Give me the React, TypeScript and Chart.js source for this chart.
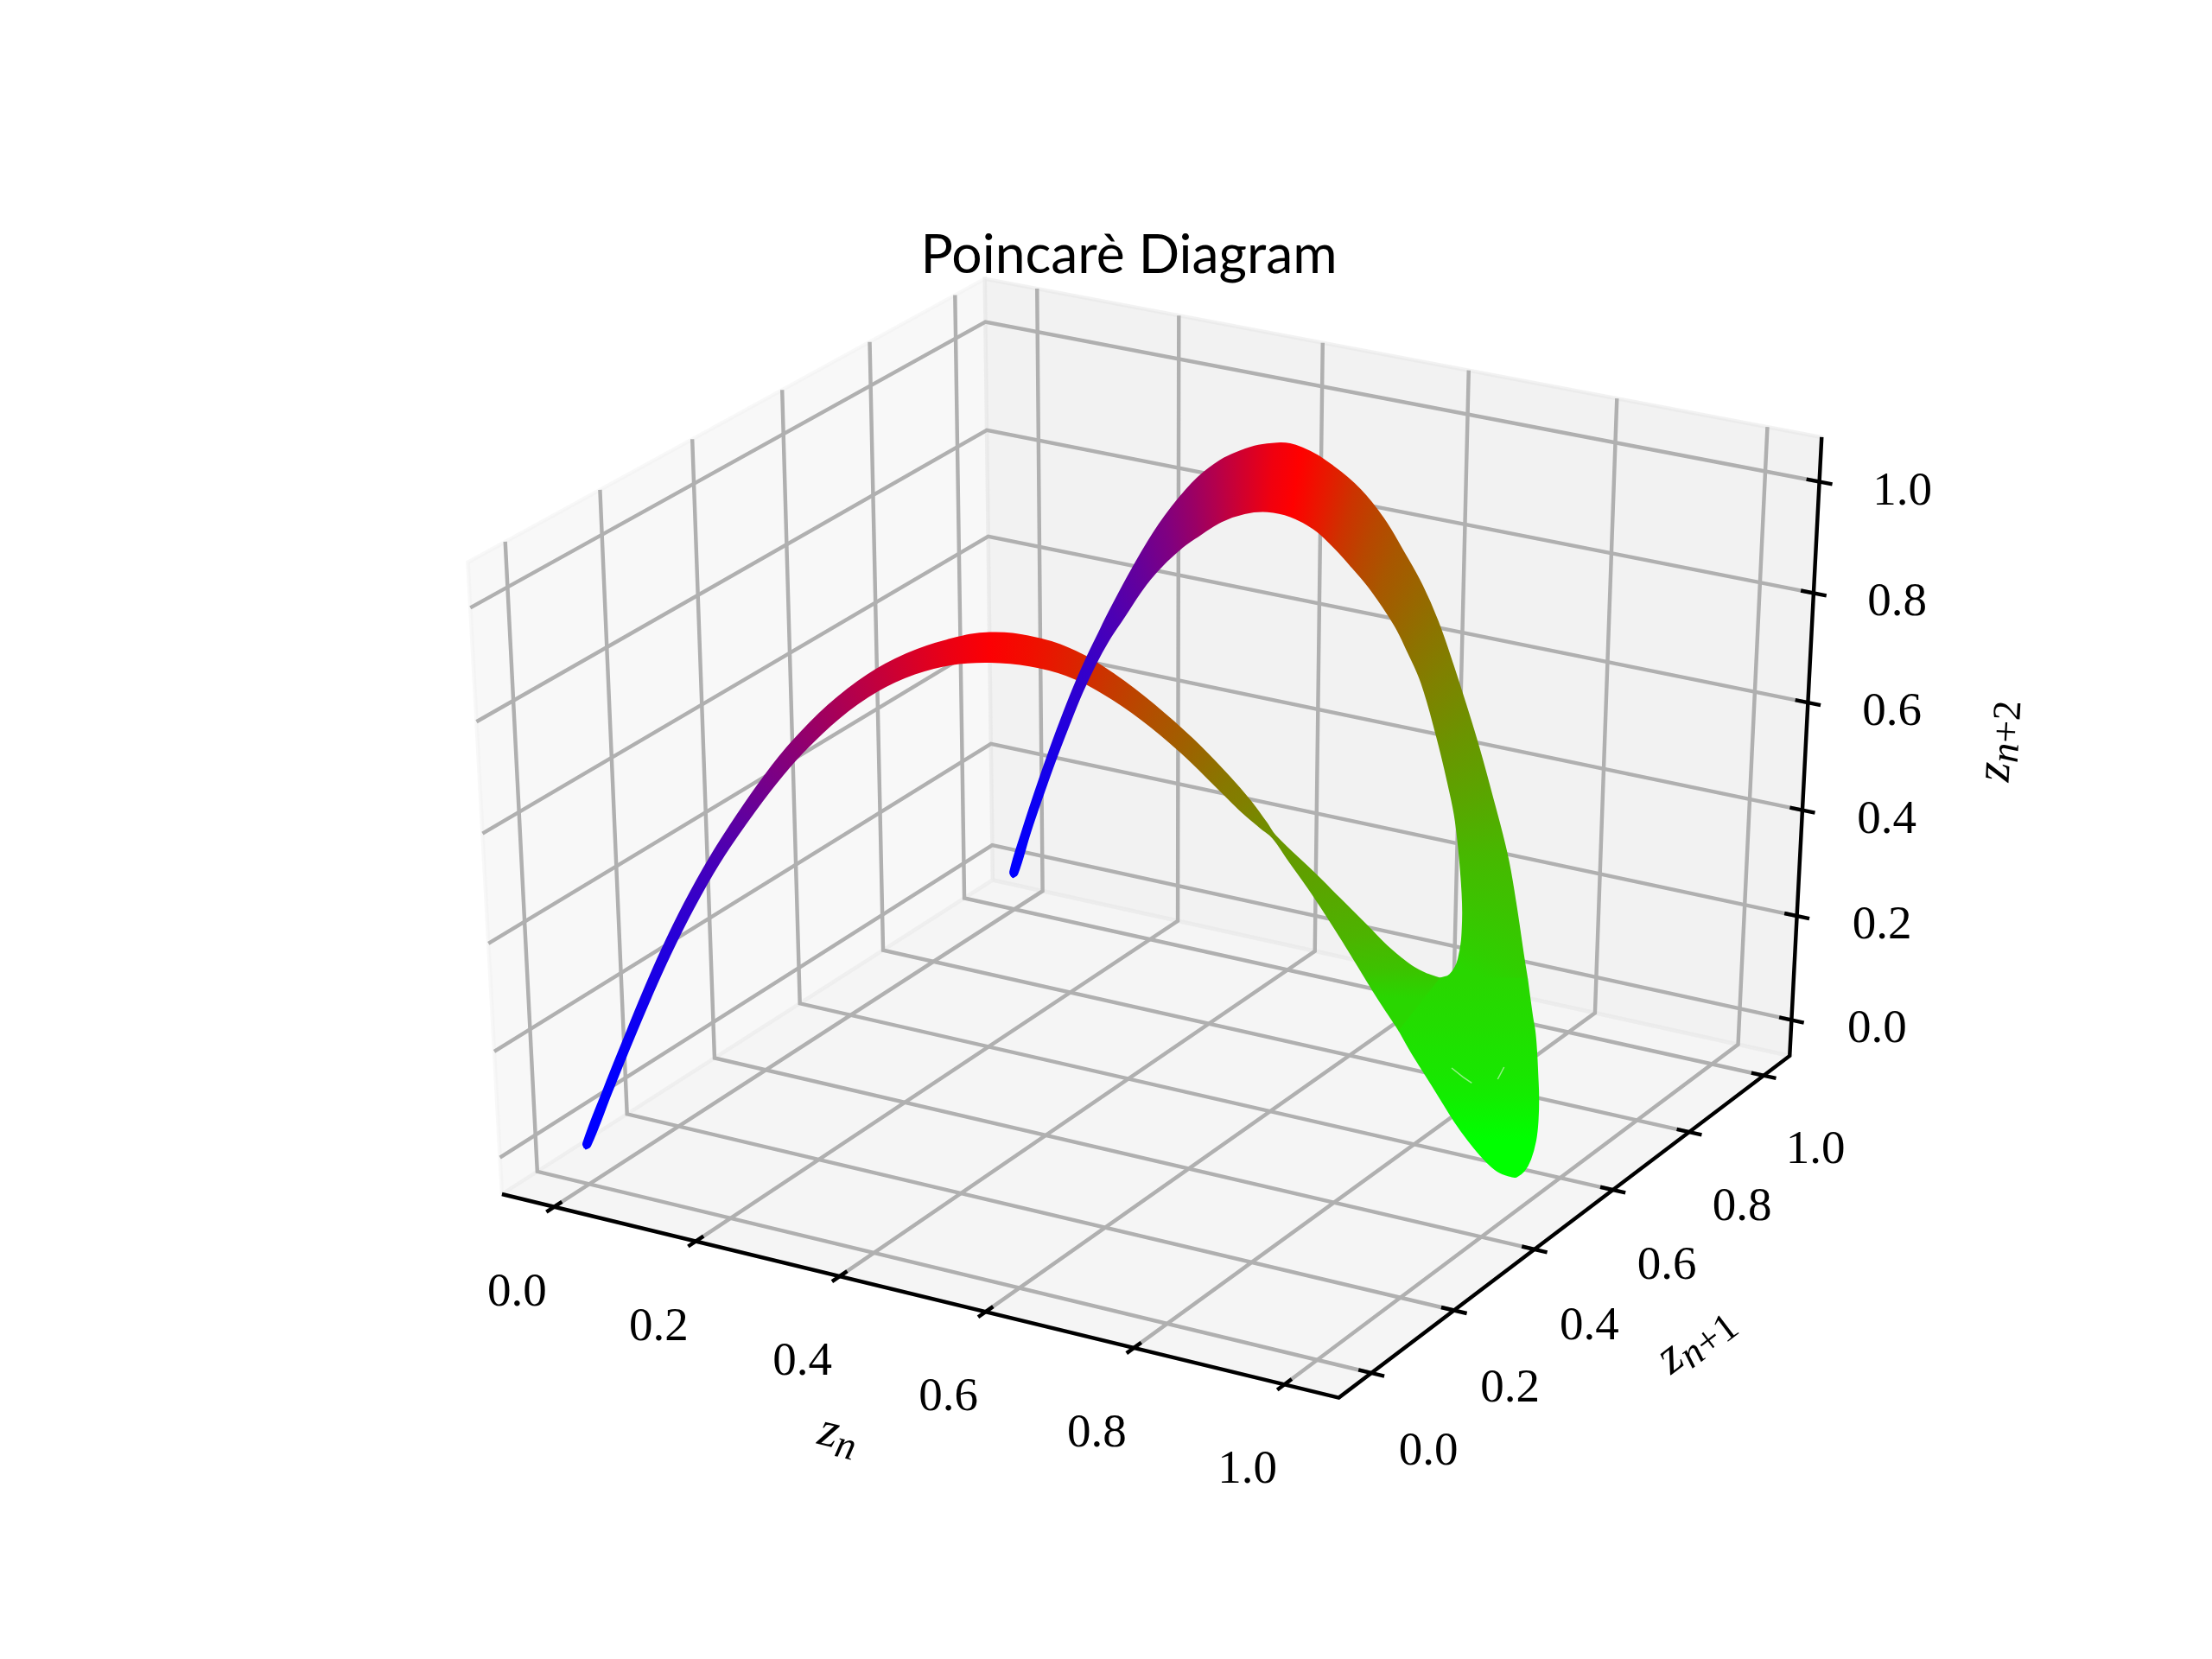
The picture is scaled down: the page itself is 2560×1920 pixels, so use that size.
import React, { useEffect, useRef } from "react";
import { Chart, registerables } from "chart.js";

Chart.register(...registerables);

const title = "Poincarè Diagram";
const tickValues = [0, 0.2, 0.4, 0.6, 0.8, 1.0];
const tickLabels = ["0.0", "0.2", "0.4", "0.6", "0.8", "1.0"];

// axis limits
const xLim = [-0.0745, 1.0714];
const yLim = [-0.0774, 1.071];
const zLim = [-0.0698, 1.079];

// Ribbons in projected (view-plane) units.
// Thin stretches: centre line with half width.
const arch1MidX = [677.6, 679, 703.6, 725.9, 748.2, 770.5, 797.3, 826.3, 859.8, 891.1, 922.3, 964.7, 1009.4, 1054, 1098.6, 1145.5, 1194.6, 1239.3, 1283.9, 1328.6, 1373.2, 1417.8, 1440.2, 1462.5, 1474.5];
const arch1MidY = [1329, 1324.9, 1261.5, 1206.2, 1152.7, 1102.5, 1048.4, 996.8, 945.9, 902.7, 865.3, 823.7, 790.6, 768.3, 754.9, 749.3, 754.2, 767.6, 792.1, 824.3, 862.7, 907.3, 931.3, 955.3, 968.3];
const arch1Half = [0.5, 4, 4.5, 4.6, 4.9, 5.2, 5.5, 5.8, 6.6, 7.4, 8.2, 9.2, 10.5, 12, 13.8, 16.5, 16, 14.3, 12.3, 10.7, 9.8, 8.9, 7.6, 4, 1.5];
// Wide stretch below the pinch: both edges.
const arch1TailOuterX = [1523, 1550, 1583, 1608, 1633, 1652, 1667];
const arch1TailOuterY = [1013, 1040, 1073, 1098, 1118, 1128, 1133];
const arch1TailInnerX = [1490, 1523, 1557, 1590, 1620];
const arch1TailInnerY = [993, 1040, 1093, 1147, 1193];
const arch1ColorX = [679, 703.6, 725.9, 748.2, 770.5, 797.3, 826.3, 859.8, 891.1, 922.3, 964.7, 1009.4, 1054, 1098.6, 1145.5, 1194.6, 1239.3, 1283.9, 1328.6, 1373.2, 1417.8, 1440.2, 1462.5, 1474.5, 1506, 1536, 1570, 1599, 1626];
const arch1ColorY = [1324.9, 1261.5, 1206.2, 1152.7, 1102.5, 1048.4, 996.8, 945.9, 902.7, 865.3, 823.7, 790.6, 768.3, 754.9, 749.3, 754.2, 767.6, 792.1, 824.3, 862.7, 907.3, 931.3, 955.3, 968.3, 1003, 1040, 1083, 1122, 1155];
const arch1Hue = [-1, -1, -0.97, -0.92, -0.87, -0.8, -0.72, -0.62, -0.53, -0.45, -0.35, -0.25, -0.16, -0.08, -0.01, 0.06, 0.13, 0.22, 0.3, 0.38, 0.47, 0.5, 0.55, 0.58, 0.62, 0.66, 0.7, 0.76, 0.84];

const arch2MidX = [1171.9, 1173.2, 1187.9, 1203.6, 1217, 1230.4, 1246.9, 1262.5, 1276.3];
const arch2MidY = [1014.7, 1010.2, 962, 915.1, 877.2, 841.5, 800, 765.6, 738.8];
const arch2Half = [0.5, 4, 4.2, 4.5, 4.7, 5, 5.2, 5.7, 6.5];
const arch2OuterX = [1283.9, 1310.7, 1342, 1373.2, 1400, 1435.7, 1478.1, 1507.1, 1542.8, 1574.1, 1600.9, 1623.2, 1645.5, 1663.4, 1681.2, 1708, 1725.9, 1743.7, 1753.3, 1763.3, 1767];
const arch2OuterY = [708.7, 658.5, 607, 567, 542, 522.3, 513.4, 518.8, 540.2, 567, 600.4, 637.5, 677.7, 718.7, 770, 854.9, 919.6, 989, 1043, 1110, 1133];
const arch2InnerX = [1297.3, 1330.8, 1364.3, 1388.8, 1413.4, 1440.2, 1466.9, 1493.7, 1520.5, 1542.8, 1565.2, 1587.5, 1614.3, 1629.9, 1645.5, 1663.4, 1676, 1685, 1691.7, 1693.3, 1688.3, 1678.3, 1666.7];
const arch2InnerY = [718.7, 670, 636.2, 618.5, 603, 593.7, 591.5, 597.3, 611.6, 631.7, 656.2, 683, 723.2, 754.5, 790.2, 852.7, 905, 950, 1016.7, 1066.7, 1110, 1128.3, 1132.7];
const arch2ColorX = [1173, 1203, 1231, 1258, 1262, 1290, 1321, 1353, 1381, 1407, 1438, 1472, 1500, 1532, 1558, 1583, 1605, 1630, 1647, 1663, 1686, 1704, 1716, 1723, 1726, 1723, 1718];
const arch2ColorY = [1012, 926, 855, 788, 765, 714, 661, 622, 594, 572, 558, 552, 558, 576, 599, 628, 661, 701, 739, 783, 855, 926, 989, 1043, 1110, 1128, 1133];
const arch2Hue = [-1, -0.95, -0.88, -0.8, -0.78, -0.7, -0.6, -0.5, -0.4, -0.3, -0.18, -0.06, 0, 0.1, 0.2, 0.28, 0.34, 0.4, 0.45, 0.5, 0.58, 0.65, 0.72, 0.76, 0.81, 0.83, 0.84];

const lobeLeftX = [1667, 1620, 1633.3, 1650, 1666.7, 1683.3, 1700, 1716.7, 1733.3, 1750];
const lobeLeftY = [1133, 1193, 1216.7, 1243.3, 1270, 1296.7, 1320, 1340, 1355, 1361.3];
const lobeRightX = [1767, 1773, 1775.7, 1777.7, 1779, 1780, 1779.3, 1776.7, 1770.7, 1763.3, 1755];
const lobeRightY = [1133, 1177, 1193, 1216.7, 1243.3, 1270, 1296.7, 1320, 1341.7, 1355, 1361.3];
const lobeColorY = [1133, 1193, 1217, 1243, 1270, 1297, 1320, 1361];
const lobeHue = [0.84, 0.87, 0.89, 0.9, 0.93, 0.97, 1, 1];

const gapX1 = [1680, 1693.3, 1703.3];
const gapY1 = [1236, 1246.7, 1253.3];
const gapX2 = [1733.3, 1740.7];
const gapY2 = [1249, 1235];

type P = { x: number; y: number };

// --- projection (elev 30, azim -60, dist 10, unit cube) ---
function project(x: number, y: number, z: number): P {
  const dx = (x - xLim[0]) / (xLim[1] - xLim[0]) - 0.5;
  const dy = (y - yLim[0]) / (yLim[1] - yLim[0]) - 0.5;
  const dz = (z - zLim[0]) / (zLim[1] - zLim[0]) - 0.5;
  const xc = 0.866025 * dx + 0.5 * dy;
  const yc = -0.25 * dx + 0.433013 * dy + 0.866025 * dz;
  const zc = 0.433013 * dx - 0.75 * dy + 0.5 * dz;
  const k = 10 / (10 - zc);
  return { x: 1337.6 + 1118 * xc * k, y: 948 - 835 * yc * k };
}

const GRID = "#b0b0b0";
const LW = 4.44;

function poly(points: P[], color: any, width = LW) {
  return {
    type: "scatter",
    data: points,
    showLine: true,
    fill: false,
    pointRadius: 0,
    borderColor: color,
    borderWidth: width,
    borderJoinStyle: "miter",
    tension: 0,
  };
}

function pane(points: P[], color: string) {
  return {
    ...poly([...points, points[0]], color),
    backgroundColor: color,
    fill: "shape",
  };
}

function hueColor(h: number) {
  const a = Math.abs(h);
  const r = Math.round(255 * (1 - a));
  const g = h > 0 ? Math.round(255 * a) : 0;
  const b = h < 0 ? Math.round(255 * a) : 0;
  return `rgb(${r},${g},${b})`;
}

const zip = (xs: number[], ys: number[]): P[] => xs.map((x, i) => ({ x, y: ys[i] }));

// the two edges of a stretch described by centre line and half width
function edges(mx: number[], my: number[], half: number[]) {
  const outer: P[] = [];
  const inner: P[] = [];
  const n = mx.length;
  for (let i = 0; i < n; i++) {
    const a = Math.max(i - 1, 0);
    const b = Math.min(i + 1, n - 1);
    const dx = mx[b] - mx[a];
    const dy = my[b] - my[a];
    const len = Math.hypot(dx, dy) || 1;
    const nx = dy / len;
    const ny = -dx / len;
    outer.push({ x: mx[i] + nx * half[i], y: my[i] + ny * half[i] });
    inner.push({ x: mx[i] - nx * half[i], y: my[i] - ny * half[i] });
  }
  return { outer, inner };
}

// one closed outline; the far end keeps sharp corners through doubled points
function outline(outer: P[], inner: P[]) {
  const oLast = outer[outer.length - 1];
  const iLast = inner[inner.length - 1];
  return [...outer, oLast, iLast, ...[...inner].reverse(), outer[0]];
}

function shape(pts: P[], paint: any) {
  return {
    ...poly(pts, paint, 2.5),
    backgroundColor: paint,
    borderJoinStyle: "round",
    fill: "shape",
    tension: 0.4,
  };
}

// colour runs around the arch: view units equal canvas pixels because the scales span the canvas 1:1
function archPaint(c2d: any, cx: number, cy: number, xs: number[], ys: number[], hue: number[]) {
  const start = Math.PI / 2;
  const g = c2d.createConicGradient(start, cx, cy);
  let last = 0;
  xs.forEach((mx, i) => {
    let a = (Math.atan2(ys[i] - cy, mx - cx) - start) / (2 * Math.PI);
    a = ((a % 1) + 1) % 1;
    last = Math.max(last, a);
    g.addColorStop(last, hueColor(hue[i]));
  });
  return g;
}

function lobePaint(c2d: any) {
  const y0 = lobeColorY[0];
  const y1 = lobeColorY[lobeColorY.length - 1];
  const g = c2d.createLinearGradient(0, y0, 0, y1);
  lobeColorY.forEach((y, i) => g.addColorStop((y - y0) / (y1 - y0), hueColor(lobeHue[i])));
  return g;
}

function buildDatasets(c2d: any) {
  const [x0, x1] = xLim;
  const [y0, y1] = yLim;
  const [z0, z1] = zLim;
  const list: any[] = [];
  // panes
  list.push(pane([project(x0, y0, z0), project(x0, y1, z0), project(x0, y1, z1), project(x0, y0, z1)], "rgba(242,242,242,0.5)"));
  list.push(pane([project(x0, y1, z0), project(x1, y1, z0), project(x1, y1, z1), project(x0, y1, z1)], "rgba(230,230,230,0.5)"));
  list.push(pane([project(x0, y0, z0), project(x1, y0, z0), project(x1, y1, z0), project(x0, y1, z0)], "rgba(236,236,236,0.5)"));
  // grid
  for (const v of tickValues) {
    list.push(poly([project(v, y0, z0), project(v, y1, z0), project(v, y1, z1)], GRID));
    list.push(poly([project(x1, v, z0), project(x0, v, z0), project(x0, v, z1)], GRID));
    list.push(poly([project(x0, y0, v), project(x0, y1, v), project(x1, y1, v)], GRID));
  }
  // axes
  list.push(poly([project(x0, y0, z0), project(x1, y0, z0), project(x1, y1, z0), project(x1, y1, z1)], "#000"));
  // ticks
  const t = 0.017;
  for (const v of tickValues) {
    list.push(poly([project(v, y0 - t, z0), project(v, y0 + t, z0)], "#000"));
    list.push(poly([project(x1 - t, v, z0), project(x1 + t, v, z0)], "#000"));
    list.push(poly([project(x1 - t, y1, v), project(x1 + t, y1, v)], "#000"));
  }
  // ribbons
  const a1 = edges(arch1MidX, arch1MidY, arch1Half);
  list.push(shape(
    outline([...a1.outer, ...zip(arch1TailOuterX, arch1TailOuterY)], [...a1.inner, ...zip(arch1TailInnerX, arch1TailInnerY)]),
    archPaint(c2d, 1150, 1150, arch1ColorX, arch1ColorY, arch1Hue)
  ));
  const a2 = edges(arch2MidX, arch2MidY, arch2Half);
  list.push(shape(
    outline([...a2.outer, ...zip(arch2OuterX, arch2OuterY)], [...a2.inner, ...zip(arch2InnerX, arch2InnerY)]),
    archPaint(c2d, 1440, 1000, arch2ColorX, arch2ColorY, arch2Hue)
  ));
  // lobe: doubled points keep the corners at the fold and at the start of the left edge
  const left = zip(lobeLeftX, lobeLeftY);
  const right = zip(lobeRightX, lobeRightY);
  list.push(shape(
    [right[0], left[0], left[0], left[1], left[1], ...left.slice(2), ...[...right].reverse(), right[0]],
    lobePaint(c2d)
  ));
  list.push(poly(zip(gapX1, gapY1), "rgba(200,250,190,0.7)", 1.5));
  list.push(poly(zip(gapX2, gapY2), "rgba(200,250,190,0.7)", 1.5));
  // chart.js paints the first dataset on top
  return list.reverse();
}

const SERIF = '"Liberation Serif"';
const MAIN = 58;
const SUB = 46;
const TICK = 55;

function drawMath(ctx: any, cx: number, cy: number, rot: number, sub: string) {
  ctx.save();
  ctx.translate(cx, cy);
  ctx.rotate(rot);
  ctx.textAlign = "left";
  ctx.textBaseline = "alphabetic";
  const parts: [string, string, number][] = [["z", `italic ${MAIN}px ${SERIF}`, 0]];
  for (const ch of sub) {
    parts.push([ch, `${ch === "n" ? "italic " : ""}${SUB}px ${SERIF}`, 9]);
  }
  let w = 0;
  for (const [s, f] of parts) {
    ctx.font = f;
    w += ctx.measureText(s).width;
  }
  let px = -w / 2;
  for (const [s, f, dy] of parts) {
    ctx.font = f;
    ctx.fillText(s, px, 6 + dy);
    px += ctx.measureText(s).width;
  }
  ctx.restore();
}

const textPlugin = {
  id: "textPlugin",
  afterDatasetsDraw(chart: any) {
    const { ctx, scales } = chart;
    const X = (v: number) => scales.x.getPixelForValue(v);
    const Y = (v: number) => scales.y.getPixelForValue(v);
    ctx.save();
    ctx.fillStyle = "#000";
    ctx.textAlign = "center";
    ctx.textBaseline = "alphabetic";
    ctx.font = '400 62.4px "Lato"';
    ctx.fillText(title, X(1306.5), Y(316));
    ctx.font = `${TICK}px ${SERIF}`;
    tickValues.forEach((v, i) => {
      const px = project(v, yLim[0], zLim[0]);
      ctx.fillText(tickLabels[i], X(px.x - 43), Y(px.y + 114));
      const py = project(xLim[1], v, zLim[0]);
      ctx.fillText(tickLabels[i], X(py.x + 66 - 6 * v), Y(py.y + 106 - 5 * v));
      const pz = project(xLim[1], yLim[1], v);
      ctx.fillText(tickLabels[i], X(pz.x + 99 - 3 * v), Y(pz.y + 26));
    });
    drawMath(ctx, X(968), Y(1670), (13.8 * Math.PI) / 180, "n");
    drawMath(ctx, X(1968), Y(1558), (-37.2 * Math.PI) / 180, "n+1");
    drawMath(ctx, X(2321), Y(858), (-87 * Math.PI) / 180, "n+2");
    ctx.restore();
  },
};

export default function App() {
  const ref = useRef<HTMLCanvasElement | null>(null);
  useEffect(() => {
    if (!ref.current) return;
    const c2d = ref.current.getContext("2d");
    const chart = new Chart(ref.current, {
      type: "scatter",
      data: { datasets: buildDatasets(c2d) },
      options: {
        animation: false,
        responsive: false,
        devicePixelRatio: 1,
        events: [],
        layout: { padding: 0 },
        scales: {
          x: { type: "linear", display: false, min: 0, max: 2560 },
          y: { type: "linear", display: false, min: 0, max: 1920, reverse: true },
        },
        plugins: { legend: { display: false }, tooltip: { enabled: false }, title: { display: false } },
      },
      plugins: [textPlugin],
    } as any);
    return () => chart.destroy();
  }, []);
  return (
    <div style={{ position: "fixed", left: 0, top: 0, width: 2560, height: 1920, background: "#fff" }}>
      <canvas ref={ref} width={2560} height={1920} style={{ display: "block", width: 2560, height: 1920 }} />
    </div>
  );
}
